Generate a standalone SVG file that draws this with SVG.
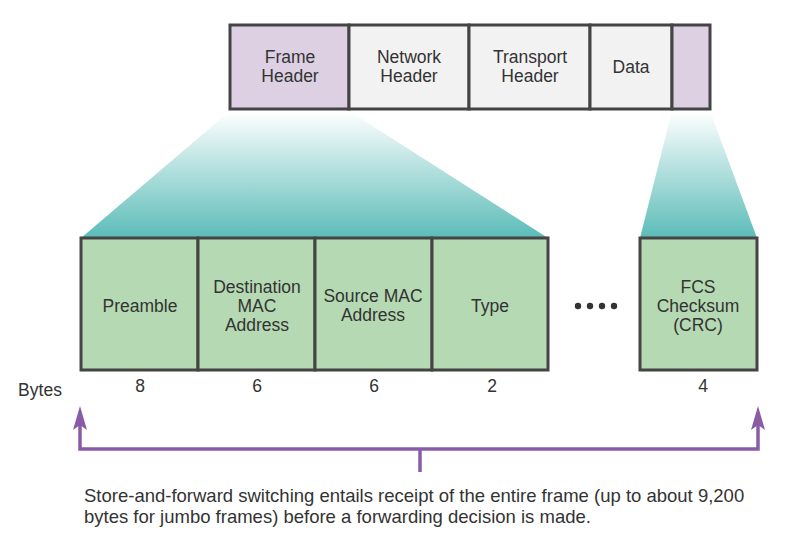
<svg xmlns="http://www.w3.org/2000/svg" width="790" height="539" viewBox="0 0 790 539">
<defs>
<linearGradient id="g" x1="0" y1="0" x2="0" y2="1"><stop offset="0" stop-color="#ffffff"/><stop offset="1" stop-color="#5bbcb8"/></linearGradient>
<style>
.b{stroke:#444;stroke-width:3}
.p{fill:#ddd0e3}.w{fill:#f2f2f2}.gr{fill:#b5d9b2}
text{font-family:"Liberation Sans",Arial,sans-serif;font-size:17.5px;fill:#333;text-anchor:middle}
.c{stroke:#8a5ca6;stroke-width:3.5;fill:none}
.ah{fill:#8a5ca6}
</style>
</defs>
<path d="M230,111 L349,111 L548,238 L81,238 Z" fill="url(#g)"/>
<path d="M672,111 L710,111 L757,238 L640,238 Z" fill="url(#g)"/>
<g id="top">
<rect class="b p" x="230" y="25" width="119" height="84"/>
<rect class="b w" x="349" y="25" width="120" height="84"/>
<rect class="b w" x="469" y="25" width="121" height="84"/>
<rect class="b w" x="590" y="25" width="82" height="84"/>
<rect class="b p" x="672" y="25" width="38" height="84"/>
<text x="290" y="63">Frame</text><text x="290" y="82">Header</text>
<text x="409" y="63">Network</text><text x="409" y="82">Header</text>
<text x="530" y="63">Transport</text><text x="530" y="82">Header</text>
<text x="631" y="73">Data</text>
</g>
<g id="bottom">
<rect class="b gr" x="81" y="238" width="117" height="132"/>
<rect class="b gr" x="198" y="238" width="117" height="132"/>
<rect class="b gr" x="315" y="238" width="117" height="132"/>
<rect class="b gr" x="432" y="238" width="116" height="132"/>
<rect class="b gr" x="640" y="238" width="117" height="132"/>
<text x="140" y="312">Preamble</text>
<text x="257" y="293">Destination</text><text x="257" y="312">MAC</text><text x="257" y="331">Address</text>
<text x="373" y="302">Source MAC</text><text x="373" y="321">Address</text>
<text x="490" y="312">Type</text>
<text x="698" y="293">FCS</text><text x="698" y="312">Checksum</text><text x="698" y="331">(CRC)</text>
<g fill="#333"><circle cx="578" cy="306" r="3.2"/><circle cx="590" cy="306" r="3.2"/><circle cx="602" cy="306" r="3.2"/><circle cx="614" cy="306" r="3.2"/></g>
</g>
<g id="bytes">
<text x="40" y="396">Bytes</text>
<text x="140" y="392">8</text><text x="257" y="392">6</text><text x="374" y="392">6</text><text x="492" y="392">2</text><text x="703" y="392">4</text>
</g>
<g id="connectors">
<path class="c" d="M80,418 L80,449 L758,449 L758,418"/>
<path class="c" d="M420,449 L420,472"/>
<path class="ah" d="M80,406 L87,430 L80,425 L73,430 Z"/>
<path class="ah" d="M758,406 L765,430 L758,425 L751,430 Z"/>
</g>
<g id="caption">
<text x="84" y="502" style="text-anchor:start;font-size:18.5px">Store-and-forward switching entails receipt of the entire frame (up to about 9,200</text>
<text x="84" y="523" style="text-anchor:start;font-size:18.5px">bytes for jumbo frames) before a forwarding decision is made.</text>
</g>
</svg>
